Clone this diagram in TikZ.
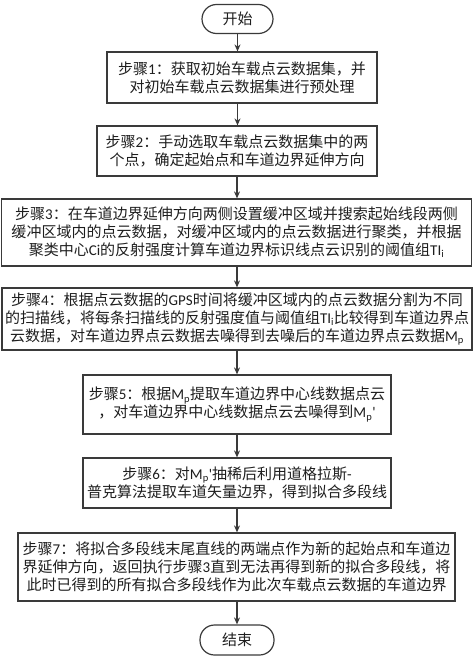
\documentclass[tikz,border=0pt]{standalone}
\usepackage{fontspec}
\setmainfont{Noto Sans CJK SC}
\newfontfamily\latf{Carlito}
\usetikzlibrary{arrows.meta}
\newcommand\la[1]{{\latf #1}}
\newcommand\sub[1]{\textsubscript{\latf #1}}
\definecolor{linec}{HTML}{3A3A3A}
\definecolor{txtc}{HTML}{1E1E1E}
\tikzset{
  stepbox/.style={draw=linec, line width=1.2pt, align=center, inner sep=0pt,
    text=txtc, font=\fontsize{15}{18}\selectfont},
  termbox/.style={stepbox, rounded corners=14.5pt},
  arr/.style={draw=linec, line width=1.1pt, -{Stealth[length=7pt,width=6pt]}}
}
\begin{document}
\begin{tikzpicture}[x=1pt,y=-1pt]
\useasboundingbox (0,0) rectangle (474,658);
\node[termbox, minimum width=71pt, minimum height=29pt] (start) at (237.5,19) {开始};
\node[stepbox, minimum width=270pt, minimum height=51pt] (s1) at (242,77.5)
  {步骤\la{1}：获取初始车载点云数据集，并\\对初始车载点云数据集进行预处理};
\node[stepbox, minimum width=280pt, minimum height=50pt] (s2) at (237,151)
  {步骤\la{2}：手动选取车载点云数据集中的两\\个点，确定起始点和车道边界延伸方向};
\node[stepbox, minimum width=470pt, minimum height=67pt] (s3) at (236.5,232.5)
  {步骤\la{3}：在车道边界延伸方向两侧设置缓冲区域并搜索起始线段两侧\\缓冲区域内的点云数据，对缓冲区域内的点云数据进行聚类，并根据\\聚类中心\la{Ci}的反射强度计算车道边界标识线点云识别的阈值组\la{TI}\sub{i}};
\node[stepbox, minimum width=470pt, minimum height=62pt] (s4) at (237,319)
  {步骤\la{4}：根据点云数据的\la{GPS}时间将缓冲区域内的点云数据分割为不同\\的扫描线，将每条扫描线的反射强度值与阈值组\la{TI}\sub{i}比较得到车道边界点\\云数据，对车道边界点云数据去噪得到去噪后的车道边界点云数据\la{M}\sub{p}};
\node[stepbox, minimum width=308pt, minimum height=59pt] (s5) at (237,404.5)
  {步骤\la{5}：根据\la{M}\sub{p}提取车道边界中心线数据点云\\，对车道边界中心线数据点云去噪得到\la{M}\sub{p}\la{'}};
\node[stepbox, minimum width=308pt, minimum height=50pt] (s6) at (237,483)
  {步骤\la{6}：对\la{M}\sub{p}\la{'}抽稀后利用道格拉斯\la{-}\\普克算法提取车道矢量边界，得到拟合多段线};
\node[stepbox, minimum width=437pt, minimum height=68pt] (s7) at (236.5,567)
  {步骤\la{7}：将拟合多段线末尾直线的两端点作为新的起始点和车道边\\界延伸方向，返回执行步骤\la{3}直到无法再得到新的拟合多段线，将\\此时已得到的所有拟合多段线作为此次车载点云数据的车道边界};
\node[termbox, minimum width=74pt, minimum height=30pt] (end) at (237,640) {结束};
\draw[arr] (start.south) -- (start.south |- s1.north);
\draw[arr] (start.south |- s1.south) -- (start.south |- s2.north);
\draw[arr] (s2.south) -- (s2.south |- s3.north);
\draw[arr] (s2.south |- s3.south) -- (s2.south |- s4.north);
\draw[arr] (s4.south) -- (s5.north);
\draw[arr] (s5.south) -- (s6.north);
\draw[arr] (s6.south) -- (s6.south |- s7.north);
\draw[arr] (s6.south |- s7.south) -- (end.north);
\end{tikzpicture}
\end{document}
